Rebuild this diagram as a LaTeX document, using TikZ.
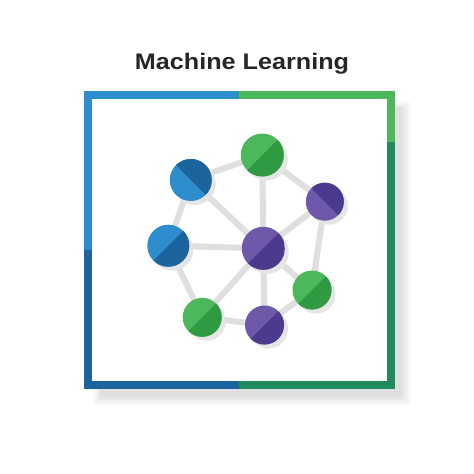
\documentclass[tikz,border=0pt]{standalone}
\usepackage{fontspec}
\setmainfont{Liberation Sans}
\definecolor{blueL}{HTML}{2E8DCD}
\definecolor{blueD}{HTML}{1C649E}
\definecolor{greenL}{HTML}{4DB85B}
\definecolor{greenD}{HTML}{2F9A42}
\definecolor{greenF}{HTML}{1F8A5E}
\definecolor{purpL}{HTML}{6E58AA}
\definecolor{purpD}{HTML}{4C3A8E}
\definecolor{edgegray}{HTML}{DFDFDF}
\pgfdeclarelayer{bg}
\pgfdeclarelayer{edges}
\pgfsetlayers{bg,edges,main}
\tikzset{
  ball/.style={circle, inner sep=0pt, minimum size=#1},
  up/.style 2 args={fill=#1, path picture={\fill[#2] (path picture bounding box.north east) -- (path picture bounding box.south west) -- (path picture bounding box.south east) -- cycle;}},
  down/.style 2 args={fill=#1, path picture={\fill[#2] (path picture bounding box.north west) -- (path picture bounding box.north east) -- (path picture bounding box.south east) -- cycle;}},
  link/.style={edgegray, line width=6pt}
}
\begin{document}
\begin{tikzpicture}[x=1pt, y=-1pt]
    \useasboundingbox (0,0) rectangle (474,474);
    \node[font=\bfseries\fontsize{22.5}{26}\selectfont, text=black!85, xscale=1.12] (title) at (242,64) {Machine Learning};
    \begin{pgfonlayer}{bg}
	\fill[white] (0,0) rectangle (474,474);
	\fill[black!3] (94,102) rectangle (410,405);
	\fill[black!6] (96,104) rectangle (408,403);
	\fill[black!9] (98,106) rectangle (405,400);
	\fill[black!12] (100,108) rectangle (402,397);
	\fill[blueL] (84,91) rectangle (239,99);
	\fill[greenL] (239,91) rectangle (395,99);
	\fill[greenL] (387,99) rectangle (395,142);
	\fill[greenF] (387,142) rectangle (395,389);
	\fill[greenF] (239,381) rectangle (387,389);
	\fill[blueD] (84,381) rectangle (239,389);
	\fill[blueD] (84,250) rectangle (92,381);
	\fill[blueL] (84,99) rectangle (92,250);
	\fill[white] (92,99) rectangle (387,381);
    \end{pgfonlayer}
    \foreach \x/\y/\r in {262.3/155/43, 190.8/180/42, 324.8/201.7/38, 168.3/245.7/42, 263.3/248.3/43, 312/290/39, 202.2/317.3/39, 264.5/325/39}
	\fill[black!10] (\x+4,\y+4) circle (\r/2);
    \node[ball=43pt, up={greenL}{greenD}] (0) at (262.3, 155) {};
    \node[ball=42pt, down={blueL}{blueD}] (1) at (190.8, 180) {};
    \node[ball=38pt, down={purpL}{purpD}] (2) at (324.8, 201.7) {};
    \node[ball=42pt, up={blueL}{blueD}] (3) at (168.3, 245.7) {};
    \node[ball=43pt, up={purpL}{purpD}] (4) at (263.3, 248.3) {};
    \node[ball=39pt, up={greenL}{greenD}] (5) at (312, 290) {};
    \node[ball=39pt, up={greenL}{greenD}] (6) at (202.2, 317.3) {};
    \node[ball=39pt, up={purpL}{purpD}] (7) at (264.5, 325) {};
    \begin{pgfonlayer}{edges}
	\draw[link] (1.center) -- (0.center) -- (2.center) -- (5.center) -- (7.center) -- (6.center) -- (3.center) -- (1.center);
	\foreach \n in {0,1,2,3,5,6,7}
	    \draw[link] (4.center) -- (\n.center);
    \end{pgfonlayer}
\end{tikzpicture}
\end{document}
